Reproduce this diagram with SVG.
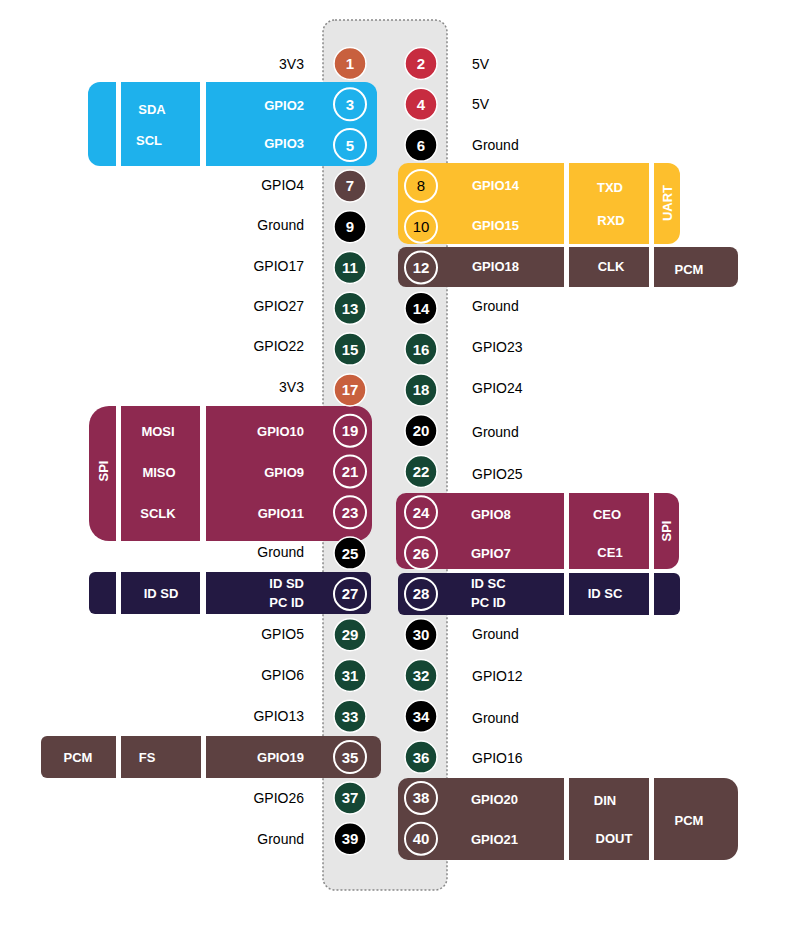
<svg xmlns="http://www.w3.org/2000/svg" width="786" height="926" viewBox="0 0 786 926">
<style>
.lbl{font-family:"Liberation Sans",Arial,sans-serif;font-size:14px;fill:#000}
.wl{font-family:"Liberation Sans",Arial,sans-serif;font-size:13px;font-weight:bold;fill:#fff}
.num{font-family:"Liberation Sans",Arial,sans-serif;font-size:15px;font-weight:bold;fill:#fff;text-anchor:middle}
.r{text-anchor:end}
.m{text-anchor:middle}
.pin{stroke:#fff;stroke-width:1.5}
.ring{stroke:#fff;stroke-width:2}
.p3{fill:#C8603E}.p5{fill:#C72C40}.gnd{fill:#000}.gp{fill:#154734}.br{fill:#5D4141}
.blue{fill:#1EB1EC}.yel{fill:#FDBF2D}.cr{fill:#8E2950}.nv{fill:#231942}
</style>
<rect id="header" x="323" y="20" width="124" height="870" rx="12" fill="#E6E6E6" stroke="#888" stroke-width="1.5" stroke-dasharray="2 2"/>

<g id="block-i2c">
<path class="blue" d="M100,82 H116 V166 H100 A12 12 0 0 1 88 154 V94 A12 12 0 0 1 100 82 Z"/>
<rect class="blue" x="121" y="82" width="79" height="84"/>
<path class="blue" d="M206,82 H365 A12 12 0 0 1 377 94 V154 A12 12 0 0 1 365 166 H206 Z"/>
<text class="wl m" x="152" y="114">SDA</text>
<text class="wl m" x="149" y="145">SCL</text>
<text class="wl r" x="304" y="110">GPIO2</text>
<text class="wl r" x="304" y="148">GPIO3</text>
</g>

<g id="block-uart">
<path class="yel" d="M408,163 H564 V244 H408 A10 10 0 0 1 398 234 V173 A10 10 0 0 1 408 163 Z"/>
<rect class="yel" x="569" y="163" width="80" height="81"/>
<path class="yel" d="M654,163 H668 A12 12 0 0 1 680 175 V232 A12 12 0 0 1 668 244 H654 Z"/>
<text class="wl" x="472" y="190">GPIO14</text>
<text class="wl" x="472" y="230">GPIO15</text>
<text class="wl m" x="610" y="192">TXD</text>
<text class="wl m" x="611" y="225">RXD</text>
<text class="wl m" transform="translate(672,203) rotate(-90)">UART</text>
</g>

<g id="block-pcm-clk">
<path class="br" d="M406,247 H564 V287 H406 A8 8 0 0 1 398 279 V255 A8 8 0 0 1 406 247 Z"/>
<rect class="br" x="569" y="247" width="80" height="40"/>
<path class="br" d="M654,247 H730 A8 8 0 0 1 738 255 V279 A8 8 0 0 1 730 287 H654 Z"/>
<text class="wl" x="472" y="271">GPIO18</text>
<text class="wl m" x="611" y="271">CLK</text>
<text class="wl m" x="689" y="274">PCM</text>
</g>

<g id="block-spi-left">
<path class="cr" d="M109,406 H116 V541 H109 A20 20 0 0 1 89 521 V426 A20 20 0 0 1 109 406 Z"/>
<rect class="cr" x="121" y="406" width="79" height="135"/>
<path class="cr" d="M206,406 H356 A16 16 0 0 1 372 422 V525 A16 16 0 0 1 356 541 H206 Z"/>
<text class="wl m" transform="translate(108,471) rotate(-90)">SPI</text>
<text class="wl m" x="158" y="436">MOSI</text>
<text class="wl m" x="159" y="477">MISO</text>
<text class="wl m" x="158" y="518">SCLK</text>
<text class="wl r" x="304" y="436">GPIO10</text>
<text class="wl r" x="304" y="477">GPIO9</text>
<text class="wl r" x="304" y="518">GPIO11</text>
</g>

<g id="block-spi-right">
<path class="cr" d="M406,493 H564 V569 H406 A10 10 0 0 1 396 559 V503 A10 10 0 0 1 406 493 Z"/>
<rect class="cr" x="569" y="493" width="80" height="76"/>
<path class="cr" d="M654,493 H667 A12 12 0 0 1 679 505 V557 A12 12 0 0 1 667 569 H654 Z"/>
<text class="wl" x="471" y="519">GPIO8</text>
<text class="wl" x="471" y="558">GPIO7</text>
<text class="wl m" x="607" y="519">CEO</text>
<text class="wl m" x="610" y="557">CE1</text>
<text class="wl m" transform="translate(671,531) rotate(-90)">SPI</text>
</g>

<g id="block-id-left">
<path class="nv" d="M95,572 H116 V614 H95 A6 6 0 0 1 89 608 V578 A6 6 0 0 1 95 572 Z"/>
<rect class="nv" x="121" y="572" width="79" height="42"/>
<path class="nv" d="M206,572 H365 A6 6 0 0 1 371 578 V608 A6 6 0 0 1 365 614 H206 Z"/>
<text class="wl m" x="161" y="598">ID SD</text>
<text class="wl r" x="304" y="588">ID SD</text>
<text class="wl r" x="304" y="607">PC ID</text>
</g>

<g id="block-id-right">
<path class="nv" d="M404,573 H564 V615 H404 A6 6 0 0 1 398 609 V579 A6 6 0 0 1 404 573 Z"/>
<rect class="nv" x="569" y="573" width="80" height="42"/>
<path class="nv" d="M654,573 H674 A6 6 0 0 1 680 579 V609 A6 6 0 0 1 674 615 H654 Z"/>
<text class="wl" x="471" y="588">ID SC</text>
<text class="wl" x="471" y="607">PC ID</text>
<text class="wl m" x="605" y="598">ID SC</text>
</g>

<g id="block-pcm-left">
<path class="br" d="M47,736 H116 V778 H47 A6 6 0 0 1 41 772 V742 A6 6 0 0 1 47 736 Z"/>
<rect class="br" x="121" y="736" width="80" height="42"/>
<path class="br" d="M206,736 H373 A8 8 0 0 1 381 744 V770 A8 8 0 0 1 373 778 H206 Z"/>
<text class="wl m" x="78" y="762">PCM</text>
<text class="wl m" x="147" y="762">FS</text>
<text class="wl r" x="304" y="762">GPIO19</text>
</g>

<g id="block-pcm-right">
<path class="br" d="M408,778 H564 V860 H408 A10 10 0 0 1 398 850 V788 A10 10 0 0 1 408 778 Z"/>
<rect class="br" x="569" y="778" width="80" height="82"/>
<path class="br" d="M654,778 H724 A14 14 0 0 1 738 792 V846 A14 14 0 0 1 724 860 H654 Z"/>
<text class="wl" x="471" y="804">GPIO20</text>
<text class="wl" x="471" y="844">GPIO21</text>
<text class="wl m" x="605" y="805">DIN</text>
<text class="wl m" x="614" y="843">DOUT</text>
<text class="wl m" x="689" y="825">PCM</text>
</g>

<g id="labels-left">
<text class="lbl r" x="304" y="69">3V3</text>
<text class="lbl r" x="304" y="190">GPIO4</text>
<text class="lbl r" x="304" y="230">Ground</text>
<text class="lbl r" x="304" y="271">GPIO17</text>
<text class="lbl r" x="304" y="311">GPIO27</text>
<text class="lbl r" x="304" y="351">GPIO22</text>
<text class="lbl r" x="304" y="392">3V3</text>
<text class="lbl r" x="304" y="557">Ground</text>
<text class="lbl r" x="304" y="639">GPIO5</text>
<text class="lbl r" x="304" y="680">GPIO6</text>
<text class="lbl r" x="304" y="721">GPIO13</text>
<text class="lbl r" x="304" y="803">GPIO26</text>
<text class="lbl r" x="304" y="844">Ground</text>
</g>
<g id="labels-right">
<text class="lbl" x="472" y="69">5V</text>
<text class="lbl" x="472" y="109">5V</text>
<text class="lbl" x="472" y="150">Ground</text>
<text class="lbl" x="472" y="311">Ground</text>
<text class="lbl" x="472" y="352">GPIO23</text>
<text class="lbl" x="472" y="393">GPIO24</text>
<text class="lbl" x="472" y="437">Ground</text>
<text class="lbl" x="472" y="479">GPIO25</text>
<text class="lbl" x="472" y="639">Ground</text>
<text class="lbl" x="472" y="681">GPIO12</text>
<text class="lbl" x="472" y="723">Ground</text>
<text class="lbl" x="472" y="763">GPIO16</text>
</g>

<g id="pins-left">
<g id="pin1"><circle class="pin p3" cx="350" cy="63.5" r="16"/><text class="num" x="350" y="69">1</text></g>
<g id="pin3"><circle class="ring blue" cx="350" cy="104.3" r="16"/><text class="num" x="350" y="110">3</text></g>
<g id="pin5"><circle class="ring blue" cx="350" cy="145.1" r="16"/><text class="num" x="350" y="150.5">5</text></g>
<g id="pin7"><circle class="pin br" cx="350" cy="185.9" r="16"/><text class="num" x="350" y="191.3">7</text></g>
<g id="pin9"><circle class="pin gnd" cx="350" cy="226.7" r="16"/><text class="num" x="350" y="232">9</text></g>
<g id="pin11"><circle class="pin gp" cx="350" cy="267.5" r="16"/><text class="num" x="350" y="273">11</text></g>
<g id="pin13"><circle class="pin gp" cx="350" cy="308.3" r="16"/><text class="num" x="350" y="313.7">13</text></g>
<g id="pin15"><circle class="pin gp" cx="350" cy="349.1" r="16"/><text class="num" x="350" y="354.5">15</text></g>
<g id="pin17"><circle class="pin p3" cx="350" cy="389.9" r="16"/><text class="num" x="350" y="395.3">17</text></g>
<g id="pin19"><circle class="ring cr" cx="350" cy="430.7" r="16"/><text class="num" x="350" y="436">19</text></g>
<g id="pin21"><circle class="ring cr" cx="350" cy="471.5" r="16"/><text class="num" x="350" y="477">21</text></g>
<g id="pin23"><circle class="ring cr" cx="350" cy="512.3" r="16"/><text class="num" x="350" y="517.7">23</text></g>
<g id="pin25"><circle class="pin gnd" cx="350" cy="553.1" r="16"/><text class="num" x="350" y="558.5">25</text></g>
<g id="pin27"><circle class="ring nv" cx="350" cy="593.9" r="16"/><text class="num" x="350" y="599.3">27</text></g>
<g id="pin29"><circle class="pin gp" cx="350" cy="634.7" r="16"/><text class="num" x="350" y="640">29</text></g>
<g id="pin31"><circle class="pin gp" cx="350" cy="675.5" r="16"/><text class="num" x="350" y="681">31</text></g>
<g id="pin33"><circle class="pin gp" cx="350" cy="716.3" r="16"/><text class="num" x="350" y="721.7">33</text></g>
<g id="pin35"><circle class="ring br" cx="350" cy="757.1" r="16"/><text class="num" x="350" y="762.5">35</text></g>
<g id="pin37"><circle class="pin gp" cx="350" cy="797.9" r="16"/><text class="num" x="350" y="803.3">37</text></g>
<g id="pin39"><circle class="pin gnd" cx="350" cy="838.7" r="16"/><text class="num" x="350" y="844">39</text></g>
</g>
<g id="pins-right">
<g id="pin2"><circle class="pin p5" cx="421" cy="63.5" r="16"/><text class="num" x="421" y="69">2</text></g>
<g id="pin4"><circle class="pin p5" cx="421" cy="104.3" r="16"/><text class="num" x="421" y="110">4</text></g>
<g id="pin6"><circle class="pin gnd" cx="421" cy="145.1" r="16"/><text class="num" x="421" y="150.5">6</text></g>
<g id="pin8"><circle class="ring yel" cx="421" cy="185.9" r="16"/><text class="num" x="421" y="191.3" fill="#000" style="fill:#000;font-weight:normal">8</text></g>
<g id="pin10"><circle class="ring yel" cx="421" cy="226.7" r="16"/><text class="num" x="421" y="232" style="fill:#000;font-weight:normal">10</text></g>
<g id="pin12"><circle class="ring br" cx="421" cy="267.5" r="16"/><text class="num" x="421" y="273">12</text></g>
<g id="pin14"><circle class="pin gnd" cx="421" cy="308.3" r="16"/><text class="num" x="421" y="313.7">14</text></g>
<g id="pin16"><circle class="pin gp" cx="421" cy="349.1" r="16"/><text class="num" x="421" y="354.5">16</text></g>
<g id="pin18"><circle class="pin gp" cx="421" cy="389.9" r="16"/><text class="num" x="421" y="395.3">18</text></g>
<g id="pin20"><circle class="pin gnd" cx="421" cy="430.7" r="16"/><text class="num" x="421" y="436">20</text></g>
<g id="pin22"><circle class="pin gp" cx="421" cy="471.5" r="16"/><text class="num" x="421" y="477">22</text></g>
<g id="pin24"><circle class="ring cr" cx="421" cy="512.3" r="16"/><text class="num" x="421" y="517.7">24</text></g>
<g id="pin26"><circle class="ring cr" cx="421" cy="553.1" r="16"/><text class="num" x="421" y="558.5">26</text></g>
<g id="pin28"><circle class="ring nv" cx="421" cy="593.9" r="16"/><text class="num" x="421" y="599.3">28</text></g>
<g id="pin30"><circle class="pin gnd" cx="421" cy="634.7" r="16"/><text class="num" x="421" y="640">30</text></g>
<g id="pin32"><circle class="pin gp" cx="421" cy="675.5" r="16"/><text class="num" x="421" y="681">32</text></g>
<g id="pin34"><circle class="pin gnd" cx="421" cy="716.3" r="16"/><text class="num" x="421" y="721.7">34</text></g>
<g id="pin36"><circle class="pin gp" cx="421" cy="757.1" r="16"/><text class="num" x="421" y="762.5">36</text></g>
<g id="pin38"><circle class="ring br" cx="421" cy="797.9" r="16"/><text class="num" x="421" y="803.3">38</text></g>
<g id="pin40"><circle class="ring br" cx="421" cy="838.7" r="16"/><text class="num" x="421" y="844">40</text></g>
</g>
</svg>
